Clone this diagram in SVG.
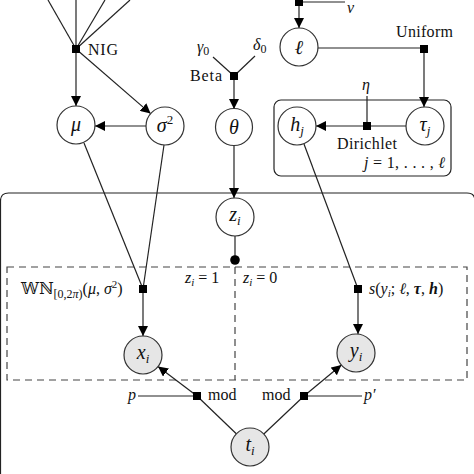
<svg xmlns="http://www.w3.org/2000/svg" width="474" height="474" viewBox="0 0 474 474" font-family="'Liberation Serif', 'DejaVu Serif', serif">
<defs>
<marker id="arr" viewBox="0 0 10 10" refX="10" refY="5" markerWidth="10" markerHeight="10" markerUnits="userSpaceOnUse" orient="auto">
<path d="M0,0 L10,5 L0,10 z" fill="#000"/>
</marker>
<style>
.n{fill:#fff;stroke:#333;stroke-width:1.2}
.o{fill:#e6e6e6;stroke:#333;stroke-width:1.2}
.l{stroke:#222;stroke-width:1.2;fill:none}
.a{stroke:#222;stroke-width:1.2;fill:none;marker-end:url(#arr)}
.d{stroke:#444;stroke-width:1.2;fill:none;stroke-dasharray:7,5}
.f{fill:#000}
text{font-family:'Liberation Serif','DejaVu Serif',serif;fill:#111}
.m{font-style:italic;font-size:20px;text-anchor:middle}
.t{font-size:16px}
.s{font-size:16px;font-style:italic}
</style>
</defs>
<rect width="474" height="474" fill="#fff"/>
<g id="plates">
<path class="l" d="M0.5,488 V201 Q0.5,193 8.5,193 H467 Q475,193 475,201 V488"/>
<rect class="l" x="274" y="100" width="177" height="76" rx="7"/>
<rect class="d" x="7" y="267" width="460" height="113"/>
<line class="d" x1="235" y1="267" x2="235" y2="380"/>
</g>
<g id="connectors">
<line class="l" x1="48" y1="0" x2="76" y2="49"/>
<line class="l" x1="76" y1="0" x2="76" y2="49"/>
<line class="l" x1="105" y1="0" x2="76" y2="49"/>
<line class="l" x1="130" y1="0" x2="76" y2="49"/>
<line class="a" x1="76" y1="49" x2="76" y2="106"/>
<line class="a" x1="76" y1="49" x2="150.6" y2="113.6"/>
<line class="a" x1="146" y1="126" x2="95" y2="126"/>
<line class="l" x1="213" y1="57" x2="234" y2="76"/>
<line class="l" x1="255" y1="56" x2="234" y2="76"/>
<line class="a" x1="234" y1="76" x2="234" y2="109"/>
<line class="l" x1="299" y1="2" x2="345" y2="2"/>
<line class="a" x1="299" y1="2" x2="299" y2="28"/>
<line class="l" x1="318" y1="48" x2="424" y2="48"/>
<line class="a" x1="424" y1="48" x2="424" y2="107"/>
<line class="l" x1="367" y1="96" x2="367" y2="126"/>
<line class="l" x1="406" y1="126" x2="367" y2="126"/>
<line class="a" x1="367" y1="126" x2="316" y2="126"/>
<line class="a" x1="234" y1="145" x2="234" y2="198"/>
<line class="l" x1="235" y1="236" x2="235" y2="260"/>
<circle class="f" cx="235" cy="260" r="4.8"/>
<line class="l" x1="84" y1="143" x2="143" y2="289"/>
<line class="l" x1="164" y1="145" x2="143" y2="289"/>
<line class="a" x1="143" y1="289" x2="143" y2="336"/>
<line class="l" x1="304" y1="144" x2="358" y2="289"/>
<line class="a" x1="358" y1="289" x2="358" y2="334"/>
<line class="l" x1="138" y1="396" x2="197" y2="396"/>
<line class="l" x1="236.3" y1="433.8" x2="197" y2="396"/>
<line class="a" x1="197" y1="396" x2="158" y2="366.5"/>
<line class="l" x1="304" y1="396" x2="362" y2="396"/>
<line class="l" x1="263.8" y1="434" x2="304" y2="396"/>
<line class="a" x1="304" y1="396" x2="341.4" y2="365"/>
</g>
<g id="factors">
<rect class="f" x="72" y="45" width="8" height="8"/>
<rect class="f" x="230" y="72" width="8" height="8"/>
<rect class="f" x="295" y="-2" width="8" height="8"/>
<rect class="f" x="420" y="45" width="8" height="8"/>
<rect class="f" x="363" y="122" width="8" height="8"/>
<rect class="f" x="139" y="285" width="8" height="8"/>
<rect class="f" x="354" y="285" width="8" height="8"/>
<rect class="f" x="193" y="392" width="8" height="8"/>
<rect class="f" x="300" y="392" width="8" height="8"/>
</g>
<g id="mu"><circle class="n" cx="76" cy="125" r="19"/><text class="m" x="76" y="131">μ</text></g>
<g id="sigma2"><circle class="n" cx="165" cy="126" r="19"/><text class="m" x="165" y="132">σ<tspan font-size="13" font-style="normal" dy="-8">2</tspan></text></g>
<g id="theta"><circle class="n" cx="234" cy="127" r="18.5"/><text class="m" x="234" y="134">θ</text></g>
<g id="ell"><circle class="n" cx="299" cy="47" r="19"/><text class="m" x="299" y="54">ℓ</text></g>
<g id="h_j"><circle class="n" cx="297" cy="126" r="19"/><text class="m" x="297" y="131">h<tspan font-size="13" dy="4">j</tspan></text></g>
<g id="tau_j"><circle class="n" cx="425" cy="126" r="19"/><text class="m" x="425" y="131">τ<tspan font-size="13" dy="4">j</tspan></text></g>
<g id="z_i"><circle class="n" cx="235" cy="217" r="19"/><text class="m" x="235" y="221">z<tspan font-size="13" dy="4">i</tspan></text></g>
<g id="x_i"><circle class="o" cx="143" cy="355" r="19"/><text class="m" x="143" y="359">x<tspan font-size="13" dy="4">i</tspan></text></g>
<g id="y_i"><circle class="o" cx="356" cy="353" r="19"/><text class="m" x="356" y="357">y<tspan font-size="13" dy="4">i</tspan></text></g>
<g id="t_i"><circle class="o" cx="250" cy="447" r="19"/><text class="m" x="250" y="451">t<tspan font-size="13" dy="4">i</tspan></text></g>
<g id="labels">
<text class="t" x="88" y="55" textLength="30">NIG</text>
<text class="t" x="190" y="81" textLength="32">Beta</text>
<text class="t" x="396" y="37" textLength="57">Uniform</text>
<text class="t" x="337" y="149" textLength="60">Dirichlet</text>
<text class="s" x="364" y="168" textLength="81"><tspan>j</tspan><tspan font-style="normal"> = 1, . . . , </tspan><tspan>ℓ</tspan></text>
<text class="s" x="197" y="52">γ<tspan font-size="12" font-style="normal" dy="3">0</tspan></text>
<text class="s" x="253" y="50">δ<tspan font-size="12" font-style="normal" dy="3">0</tspan></text>
<text class="s" x="362" y="90">η</text>
<text class="s" x="347" y="13">ν</text>
<text class="t" x="21" y="294" font-size="17">𝕎ℕ<tspan font-size="12" dy="4">[0,2<tspan font-style="italic">π</tspan>)</tspan><tspan dy="-4">(<tspan font-style="italic">μ</tspan>, <tspan font-style="italic">σ</tspan><tspan font-size="11" dy="-6">2</tspan><tspan dy="6">)</tspan></tspan></text>
<text class="t" x="369" y="294" font-size="17"><tspan font-style="italic">s</tspan>(<tspan font-style="italic">y</tspan><tspan font-size="11" font-style="italic" dy="3">i</tspan><tspan dy="-3">; </tspan><tspan font-style="italic">ℓ</tspan>, <tspan font-weight="bold" font-style="italic">τ</tspan>, <tspan font-weight="bold" font-style="italic">h</tspan>)</text>
<text class="s" x="185" y="283">z<tspan font-size="11" dy="3">i</tspan><tspan font-style="normal" dy="-3"> = 1</tspan></text>
<text class="s" x="243" y="283">z<tspan font-size="11" dy="3">i</tspan><tspan font-style="normal" dy="-3"> = 0</tspan></text>
<text class="t" x="208" y="400">mod</text>
<text class="t" x="262" y="400">mod</text>
<text class="s" x="128" y="400">p</text>
<text class="s" x="364" y="400">p′</text>
</g>
</svg>
